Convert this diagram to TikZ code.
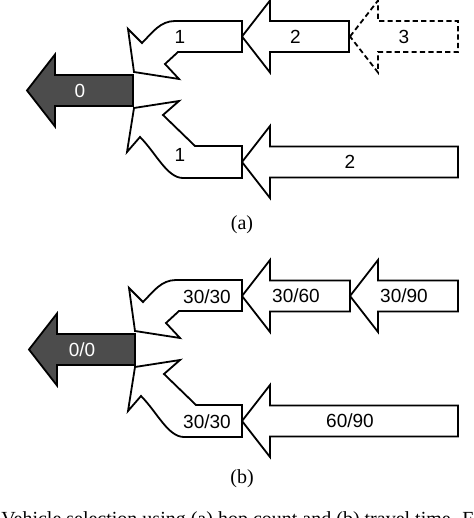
\documentclass[tikz,border=0pt]{standalone}
\usepackage{fontspec}
\setmainfont{Liberation Serif}
\newfontfamily\arrowfont{Liberation Sans}
\tikzset{
    base-arrow/.style = {draw=black, line width=0.9pt, line join=miter},
    flow-arrow/.style = {base-arrow, fill=white},
    lead-arrow/.style = {base-arrow, fill=black!70},
    ghost-arrow/.style = {base-arrow, fill=white, dash pattern=on 2.6pt off 1.6pt},
    flow-label/.style = {font=\arrowfont\fontsize{9.5}{10}\selectfont, inner sep=0pt},
    lead-label/.style = {flow-label, text=white},
    panel-caption/.style = {font=\fontsize{10}{12}\selectfont, inner sep=0pt, anchor=base},
}

\begin{document}
\begin{tikzpicture}[x=0.5pt, y=-0.5pt]
\useasboundingbox (0,0) rectangle (474,518);
\clip (0,0) rectangle (474,518);

% (a) hop count
\foreach \xt/\xe/\yc/\sty/\lsty/\txt [count=\i] in {
    27/133/90.5/lead-arrow/lead-label/0,
    242/349/36.5/flow-arrow/flow-label/2,
    350/458/36.5/ghost-arrow/flow-label/3,
    242/458/162/flow-arrow/flow-label/2} {
  \draw[\sty] (\xt,\yc) -- ++(28,-36) -- ++(0,20.5) -- (\xe,\yc-15.5)
    -- (\xe,\yc+15.5) -- (\xt+28,\yc+15.5) -- ++(0,20.5) -- cycle;
  \node[\lsty] (hop-\i) at ({(\xt+\xe)/2},\yc) {\txt};
}
\draw[flow-arrow] (134,72) -- (179,79) -- (165,64) -- (178,52) -- (242,52) -- (242,21)
  -- (175,21) .. controls (160,21) and (152,33) .. (142,43) -- (128,29) -- cycle;
\draw[flow-arrow] (134,108) -- (179,101) -- (163,115) -- (195,146) -- (242,146) -- (242,178)
  -- (183,178) .. controls (167,178) and (156,153) .. (140,137) -- (127,152) -- cycle;
\node[flow-label] (hop-up) at (180,36.5) {1};
\node[flow-label] (hop-down) at (180,155) {1};
\node[panel-caption] (cap-a) at (242,229.5) {(a)};

% (b) travel time
\begin{scope}[shift={(0,259)}]
\foreach \xt/\xe/\yc/\sty/\lsty/\txt [count=\i] in {
    29/135/90.5/lead-arrow/lead-label/{0/0},
    242/350/37/flow-arrow/flow-label/{30/60},
    350/458/37/flow-arrow/flow-label/{30/90},
    242/458/162/flow-arrow/flow-label/{60/90}} {
  \draw[\sty] (\xt,\yc) -- ++(28,-36) -- ++(0,20.5) -- (\xe,\yc-15.5)
    -- (\xe,\yc+15.5) -- (\xt+28,\yc+15.5) -- ++(0,20.5) -- cycle;
  \node[\lsty] (time-\i) at ({(\xt+\xe)/2},\yc) {\txt};
}
\draw[flow-arrow] (135,72) -- (180,79) -- (166,64) -- (179,52) -- (242,52) -- (242,21)
  -- (176,21) .. controls (161,21) and (153,33) .. (143,43) -- (129,29) -- cycle;
\draw[flow-arrow] (135,108) -- (180,101) -- (164,115) -- (196,146) -- (242,146) -- (242,178)
  -- (184,178) .. controls (168,178) and (157,153) .. (141,137) -- (128,152) -- cycle;
\node[flow-label] (time-up) at (207,37.5) {30/30};
\node[flow-label] (time-down) at (207,162.5) {30/30};
\node[panel-caption] (cap-b) at (242,224.5) {(b)};
\end{scope}

\node[panel-caption, anchor=base west] (caption) at (1,525.5)
  {Vehicle selection using (a) hop count and (b) travel time. F};
\end{tikzpicture}
\end{document}
